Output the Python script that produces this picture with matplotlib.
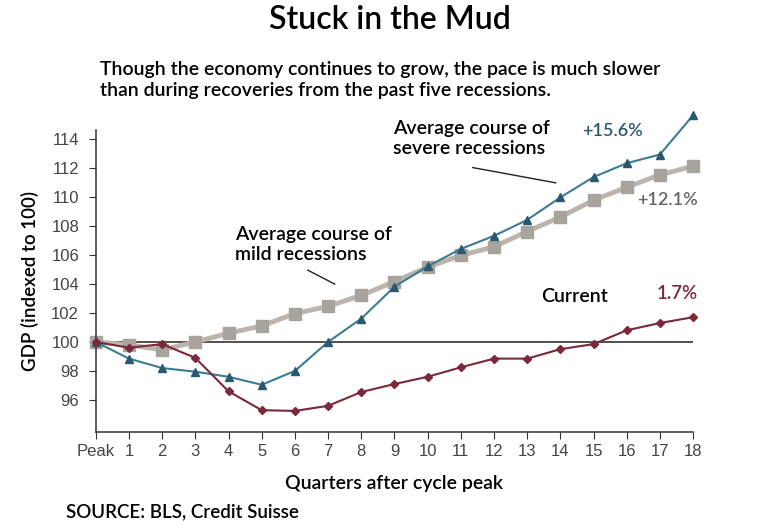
import matplotlib

matplotlib.use("Agg")
import matplotlib.pyplot as plt

# quarters after the cycle peak (0 = peak)
quarters = list(range(19))
tick_labels = ["Peak"] + [str(q) for q in range(1, 19)]

severe = [100.0, 98.85, 98.2, 97.95, 97.6, 97.05, 98.0, 100.0, 101.6, 103.8,
          105.2, 106.4, 107.3, 108.4, 109.95, 111.35, 112.3, 112.9, 115.6]
mild = [100.0, 99.8, 99.45, 100.0, 100.6, 101.1, 101.95, 102.45, 103.2, 104.15,
        105.15, 105.95, 106.55, 107.6, 108.6, 109.75, 110.65, 111.5, 112.1]
current = [100.0, 99.6, 99.85, 98.9, 96.6, 95.3, 95.25, 95.6, 96.55, 97.1,
           97.6, 98.25, 98.85, 98.85, 99.5, 99.85, 100.8, 101.3, 101.7]

yticks = [96, 98, 100, 102, 104, 106, 108, 110, 112, 114]

SEV, MILD, MILDM, CUR = "#3d7b93", "#bbb5ae", "#a9a39d", "#7b2838"
TXT = "Lato"
W = "semibold"

fig = plt.figure(figsize=(7.6, 5.32), dpi=100)
ax = fig.add_axes([0.126, 0.188, 0.786, 0.568])

ax.axhline(100, xmin=0, xmax=1, color="#222222", lw=1.1, zorder=1)
ax.plot(quarters, mild, "-s", color=MILD, mfc=MILDM, mec=MILDM, lw=3.5, ms=8, zorder=2, clip_on=False)
ax.plot(quarters, severe, "-^", color=SEV, mfc="#2a5870", mec="#2a5870", lw=1.5, ms=6, zorder=3, clip_on=False)
ax.plot(quarters, current, "-D", color=CUR, mfc=CUR, mec=CUR, lw=1.5, ms=4, zorder=3, clip_on=False)

ax.set_xlim(0, 18); ax.set_ylim(93.8, 114.6)
ax.set_xticks(quarters); ax.set_xticklabels(tick_labels)
ax.set_yticks(yticks)
for s in ("top", "right"):
    ax.spines[s].set_visible(False)
for s in ("left", "bottom"):
    ax.spines[s].set_color("#333333"); ax.spines[s].set_linewidth(1.1)
ax.tick_params(axis="both", direction="out", length=5, color="#333333",
               labelsize=12, labelcolor="#444444", pad=4)
ax.tick_params(axis="y", pad=7)
for lab in ax.get_xticklabels() + ax.get_yticklabels():
    lab.set_family("Liberation Sans")

ax.set_xlabel("Quarters after cycle peak", family=TXT, weight=W, fontsize=14, labelpad=11)
ax.set_ylabel("GDP (indexed to 100)", family=TXT, weight=W, fontsize=13.5, labelpad=9)

fig.text(0.513, 0.962, "Stuck in the Mud", family=TXT, weight=W, fontsize=23, ha="center", va="center")
fig.text(0.131, 0.850, "Though the economy continues to grow, the pace is much slower\n"
         "than during recoveries from the past five recessions.",
         family=TXT, weight=W, fontsize=14, ha="left", va="center", linespacing=1.3)
fig.text(0.087, 0.038, "SOURCE: BLS, Credit Suisse", family=TXT, weight=W, fontsize=13.5,
         ha="left", va="center")

ax.text(8.95, 114.0, "Average course of\nsevere recessions", family=TXT, weight=W, fontsize=14,
        ha="left", va="center", linespacing=1.2)
ax.plot([11.36, 13.86], [112.0, 110.95], color="#222222", lw=1)
ax.text(14.67, 114.55, "+15.6%", family=TXT, weight=W, fontsize=13, color="#2a5870", ha="left", va="center")
ax.text(16.3, 109.75, "+12.1%", family=TXT, weight=W, fontsize=13, color="#666666", ha="left", va="center")
ax.text(4.19, 106.7, "Average course of\nmild recessions", family=TXT, weight=W, fontsize=14,
        ha="left", va="center", linespacing=1.2)
ax.plot([6.39, 7.2], [104.94, 103.98], color="#222222", lw=1)
ax.text(13.43, 103.1, "Current", family=TXT, weight=W, fontsize=14, ha="left", va="center")
ax.text(16.9, 103.36, "1.7%", family=TXT, weight=W, fontsize=13.5, color=CUR, ha="left", va="center")

fig.savefig("out.png", dpi=100, facecolor="white")
